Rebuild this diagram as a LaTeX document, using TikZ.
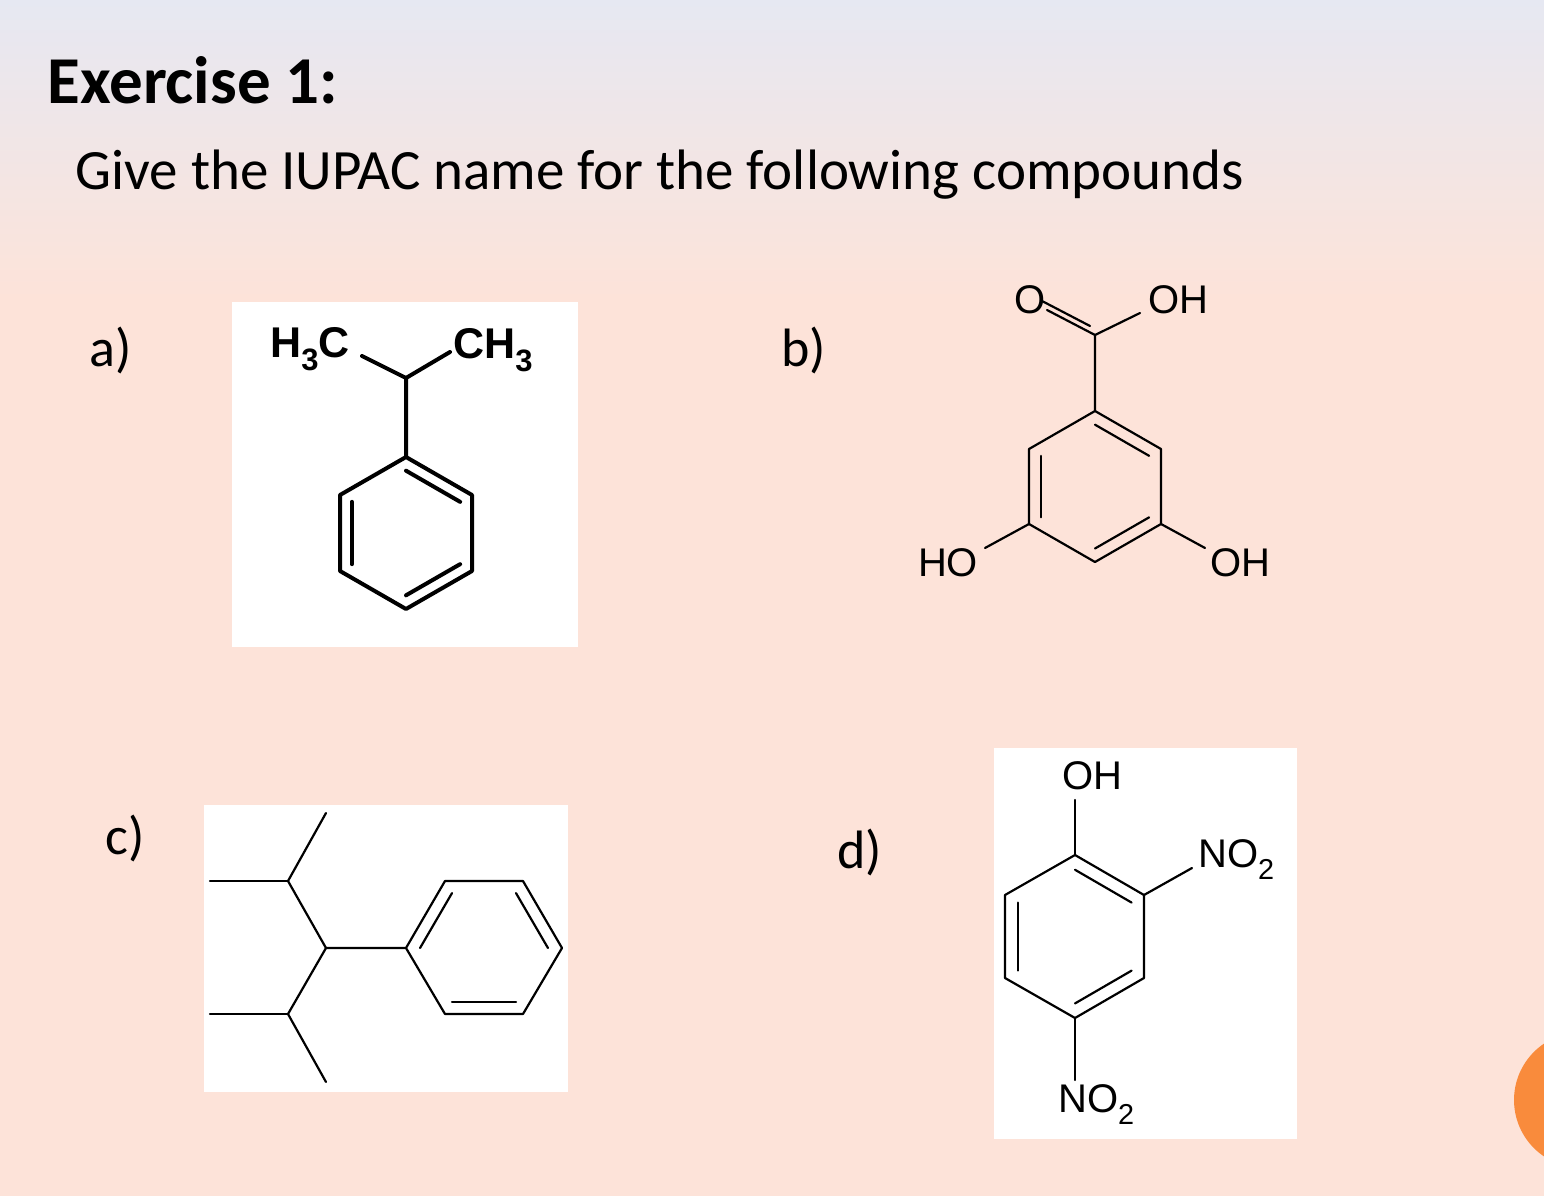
\documentclass[tikz,border=0pt]{standalone}
\usepackage{fontspec}
\setmainfont{Carlito}
\newfontfamily\arial{Liberation Sans}
\usetikzlibrary{calc}
\definecolor{bgtop}{HTML}{E6E8F2}
\definecolor{bgbot}{HTML}{FDE3D9}
\definecolor{orng}{HTML}{F98B3C}
\tikzset{thick4/.style={line width=4pt,line cap=round,line join=round},
thin2/.style={line width=2.2pt,line cap=round,line join=round},
lbl/.style={font=\fontsize{54}{60}\selectfont,anchor=west},
atom/.style={font=\arial\fontsize{40}{44}\selectfont,inner sep=0pt}}
\newcommand{\dbl}[4]{\draw[#4] ($(#1)!0.18!(#3)$) -- ($(#2)!0.18!(#3)$);}
\newcommand{\lowsub}[1]{\raisebox{-0.3em}{\scalebox{0.72}{#1}}}
\begin{document}
\begin{tikzpicture}[x=1pt,y=-1pt]
\useasboundingbox (0,0) rectangle (1544,1196);
\fill[bgbot] (0,0) rectangle (1544,1196);
\shade[top color=bgtop,bottom color=bgbot] (0,0) rectangle (1544,300);
\fill[orng] (1582,1100) circle (68);
\node[font=\bfseries\fontsize{67}{74}\selectfont,anchor=west] (title) at (44,80) {Exercise 1:};
\node[font=\fontsize{57}{64}\selectfont,anchor=west] (sub) at (72,175) {Give the IUPAC name for the following compounds};
\node[lbl] (la) at (86,350) {a)};
\node[lbl] (lb) at (778,350) {b)};
\node[lbl] (lc) at (102,838) {c)};
\node[lbl] (ld) at (834,852) {d)};
\fill[white] (232,302) rectangle (578,647);
\fill[white] (204,805) rectangle (568,1092);
\fill[white] (994,748) rectangle (1297,1139);
% a
\coordinate (aO) at (406,533);
\coordinate (a1) at (406,457); \coordinate (a2) at (472,495); \coordinate (a3) at (472,571);
\coordinate (a4) at (406,609); \coordinate (a5) at (340,571); \coordinate (a6) at (340,495);
\coordinate (aC) at (406,378); \coordinate (aL) at (362,356); \coordinate (aR) at (450,352);
\draw[thick4] (a1)--(a2)--(a3)--(a4)--(a5)--(a6)--cycle;
\dbl{a1}{a2}{aO}{thick4}\dbl{a3}{a4}{aO}{thick4}\dbl{a5}{a6}{aO}{thick4}
\draw[thick4] (a1)--(aC)--(aL); \draw[thick4] (aC)--(aR);
\node[atom,font=\arial\bfseries\fontsize{43}{46}\selectfont,anchor=west] (h3c) at (270,349) {H\lowsub{3}C};
\node[atom,font=\arial\bfseries\fontsize{43}{46}\selectfont,anchor=west] (ch3) at (453,350) {CH\lowsub{3}};
% b
\coordinate (bO) at (1095,487);
\coordinate (b1) at (1095,411); \coordinate (b2) at (1161,449); \coordinate (b3) at (1161,524);
\coordinate (b4) at (1095,562); \coordinate (b5) at (1029,524); \coordinate (b6) at (1029,449);
\draw[thin2] (b1)--(b2)--(b3)--(b4)--(b5)--(b6)--cycle;
\dbl{b1}{b2}{bO}{thin2}\dbl{b3}{b4}{bO}{thin2}\dbl{b5}{b6}{bO}{thin2}
\coordinate (bc) at (1095,335);
\draw[thin2] (b1)--(bc)--(1140,313);
\draw[thin2] (bc)--(1047,310); \draw[thin2] ($(bc)+(-5,-9)$)--($(1047,310)+(-5,-9)$);
\node[atom] (bO1) at (1030,300) {O};
\node[atom] (bOH) at (1178,300) {OH};
\draw[thin2] (b5)--(985,548); \draw[thin2] (b3)--(1205,548);
\node[atom] (bHO) at (948,563) {HO};
\node[atom] (bOH2) at (1240,563) {OH};
% c
\coordinate (cO) at (484,948);
\coordinate (c1) at (445,881); \coordinate (c2) at (523,881); \coordinate (c3) at (562,948);
\coordinate (c4) at (523,1014); \coordinate (c5) at (445,1014); \coordinate (c6) at (406,948);
\draw[thin2] (c1)--(c2)--(c3)--(c4)--(c5)--(c6)--cycle;
\dbl{c2}{c3}{cO}{thin2}\dbl{c4}{c5}{cO}{thin2}\dbl{c6}{c1}{cO}{thin2}
\draw[thin2] (c6)--(326,948)--(288,881)--(326,813); \draw[thin2] (288,881)--(210,881);
\draw[thin2] (326,948)--(288,1014)--(326,1082); \draw[thin2] (288,1014)--(210,1014);
% d
\coordinate (dO) at (1075,937);
\coordinate (d1) at (1075,855); \coordinate (d2) at (1144,895); \coordinate (d3) at (1144,978);
\coordinate (d4) at (1075,1018); \coordinate (d5) at (1005,978); \coordinate (d6) at (1005,895);
\draw[thin2] (d1)--(d2)--(d3)--(d4)--(d5)--(d6)--cycle;
\dbl{d1}{d2}{dO}{thin2}\dbl{d3}{d4}{dO}{thin2}\dbl{d5}{d6}{dO}{thin2}
\draw[thin2] (d1)--(1075,800); \draw[thin2] (d2)--(1192,868); \draw[thin2] (d4)--(1075,1080);
\node[atom] (dOH) at (1092,776) {OH};
\node[atom,anchor=west] (dNO) at (1198,860) {NO\lowsub{2}};
\node[atom,anchor=west] (dNO2) at (1058,1105) {NO\lowsub{2}};
\end{tikzpicture}
\end{document}
